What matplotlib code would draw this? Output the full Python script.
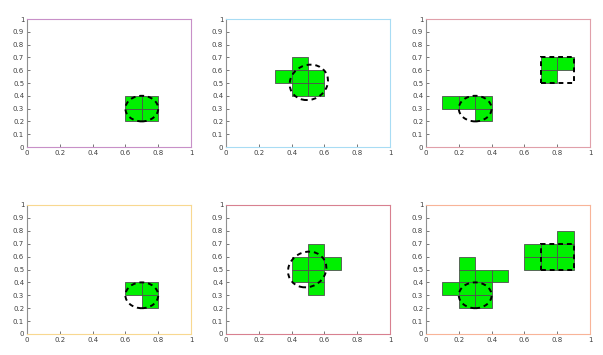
import matplotlib
matplotlib.use('Agg')
import matplotlib.pyplot as plt
from matplotlib.patches import Rectangle, Circle, Ellipse

# lower-left corners of the filled cells (cell size 0.1)
cells_1 = [(0.6, 0.2), (0.7, 0.2), (0.6, 0.3), (0.7, 0.3)]
cells_2 = [(0.4, 0.6), (0.3, 0.5), (0.4, 0.5), (0.5, 0.5), (0.4, 0.4), (0.5, 0.4)]
cells_3 = [(0.1, 0.3), (0.2, 0.3), (0.3, 0.3), (0.3, 0.2),
           (0.7, 0.6), (0.8, 0.6), (0.7, 0.5)]
cells_4 = [(0.6, 0.3), (0.7, 0.3), (0.7, 0.2)]
cells_5 = [(0.5, 0.6), (0.4, 0.5), (0.5, 0.5), (0.6, 0.5),
           (0.4, 0.4), (0.5, 0.4), (0.5, 0.3)]
cells_6 = [(0.2, 0.5), (0.2, 0.4), (0.3, 0.4), (0.4, 0.4), (0.1, 0.3),
           (0.2, 0.3), (0.3, 0.3), (0.2, 0.2), (0.3, 0.2),
           (0.8, 0.7), (0.6, 0.6), (0.7, 0.6), (0.8, 0.6),
           (0.6, 0.5), (0.7, 0.5), (0.8, 0.5)]

# dashed outlines: ('circle', cx, cy, r) / ('ellipse', cx, cy, w, h, angle) / ('rect', x, y, w, h)
shapes_1 = [('circle', 0.7, 0.3, 0.1)]
shapes_2 = [('ellipse', 0.505, 0.505, 0.23, 0.28, -15)]
shapes_3 = [('circle', 0.3, 0.3, 0.1), ('rect', 0.7, 0.5, 0.2, 0.2)]
shapes_4 = [('circle', 0.7, 0.3, 0.1)]
shapes_5 = [('ellipse', 0.495, 0.5, 0.23, 0.28, -15)]
shapes_6 = [('circle', 0.3, 0.3, 0.1), ('rect', 0.7, 0.5, 0.2, 0.2)]

frame_colors = ['#c890c8', '#a8dcf4', '#e0a0aa', '#f8d890', '#d88090', '#f8b498']

panels = [(cells_1, shapes_1), (cells_2, shapes_2), (cells_3, shapes_3),
          (cells_4, shapes_4), (cells_5, shapes_5), (cells_6, shapes_6)]

fig = plt.figure(figsize=(6.03, 3.55), dpi=100)
lefts = [27, 226, 426]
bottoms_top = [(19, 147), (205, 334)]
W, H = 603.0, 355.0

for i, (cells, shapes) in enumerate(panels):
    r, c = divmod(i, 3)
    x0 = lefts[c]
    x1 = x0 + 164
    top, bot = bottoms_top[r]
    ax = fig.add_axes([x0 / W, 1 - bot / H, (x1 - x0) / W, (bot - top) / H])
    for (x, y) in cells:
        ax.add_patch(Rectangle((x, y), 0.1, 0.1, facecolor='#00f000',
                               edgecolor='#505050', linewidth=0.6))
    for s in shapes:
        if s[0] == 'circle':
            p = Circle((s[1], s[2]), s[3])
        elif s[0] == 'ellipse':
            p = Ellipse((s[1], s[2]), s[3], s[4], angle=s[5])
        else:
            p = Rectangle((s[1], s[2]), s[3], s[4])
        p.set_fill(False)
        p.set_edgecolor('black')
        p.set_linestyle((0, (2.5, 2)))
        p.set_linewidth(1.4)
        ax.add_patch(p)
    ax.set_xlim(0, 1)
    ax.set_ylim(0, 1)
    ax.set_xticks([0, 0.2, 0.4, 0.6, 0.8, 1])
    ax.set_xticklabels(['0', '0.2', '0.4', '0.6', '0.8', '1'])
    ax.set_yticks([k / 10 for k in range(11)])
    ax.set_yticklabels(['0'] + ['0.%d' % k for k in range(1, 10)] + ['1'])
    ax.tick_params(labelsize=5, colors='#404040', length=2, width=0.5,
                   direction='in', pad=2)
    for sp in ax.spines.values():
        sp.set_color(frame_colors[i])
        sp.set_linewidth(0.8)
    ax.spines['left'].set_color('#909090')

fig.savefig('out.png', dpi=100)
